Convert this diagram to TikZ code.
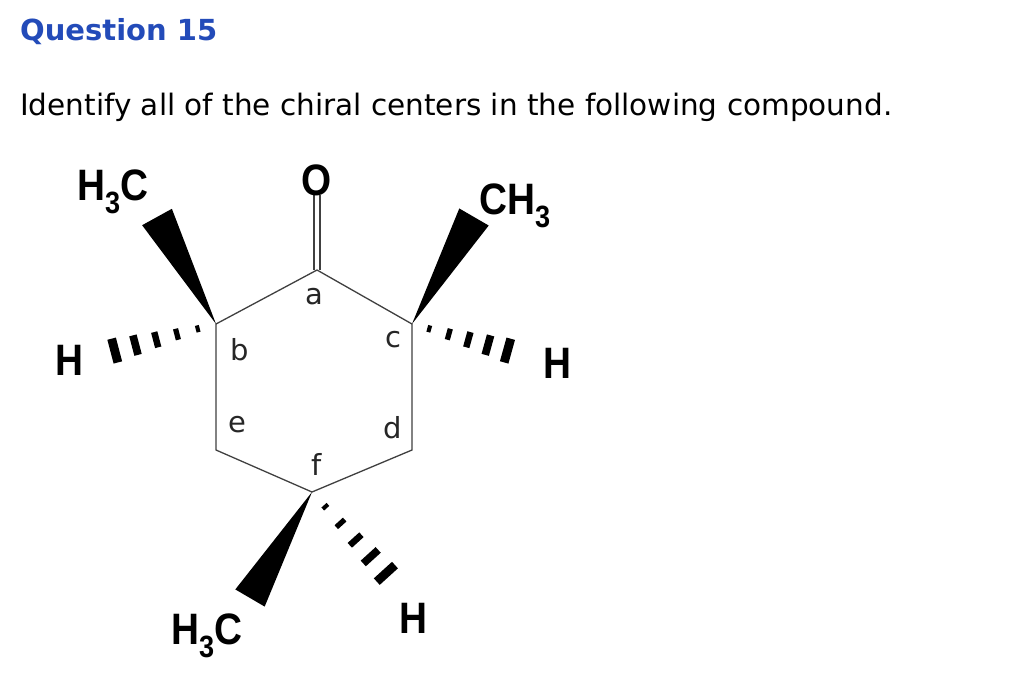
\documentclass[tikz,border=0pt]{standalone}
\usepackage{fontspec}
\setmainfont{DejaVu Sans}
\newfontfamily\chem{Liberation Sans}
\usetikzlibrary{calc}
\tikzset{
 bond/.style={line width=1.3pt,black!75},
 atom/.style={font=\chem\bfseries\fontsize{44}{44}\selectfont,inner sep=0pt,xscale=0.88},
 lab/.style={font=\fontsize{29}{29}\selectfont,text=black!85,inner sep=0pt}
}
\newcommand{\wedgebond}[2]{%
 \fill ($(#1)$) -- ($(#2)!17pt!90:(#1)$) -- ($(#2)!17pt!-90:(#1)$) -- cycle;}
\newcommand{\hashbond}[2]{%
 \foreach \t in {0.15,0.32,0.49,0.66,0.83,1.0}{%
  \pgfmathsetmacro{\hw}{1.5+\t*13}%
  \pgfmathsetmacro{\lw}{3+\t*7}%
  \draw[line width=\lw pt] ($(#1)!\t!(#2)$) coordinate (hp) ($(hp)!\hw pt!90:(#2)$) -- ($(hp)!\hw pt!-90:(#2)$);}}
\begin{document}
\begin{tikzpicture}[x=1pt,y=-1pt]
\useasboundingbox (0,0) rectangle (1024,683);
\fill[white] (0,0) rectangle (1024,683);
\node[anchor=west,font=\bfseries\fontsize{29}{29}\selectfont,text={rgb,255:red,35;green,75;blue,185},inner sep=0] (title) at (20,32) {Question 15};
\node[anchor=west,font=\fontsize{29.5}{29.5}\selectfont,inner sep=0] (q) at (20,107) {Identify all of the chiral centers in the following compound.};
\coordinate (a) at (317,270);
\coordinate (b) at (216,324);
\coordinate (c) at (412,324);
\coordinate (e) at (216,450);
\coordinate (d) at (412,450);
\coordinate (f) at (312,492);
\draw[bond] (a) -- (b) -- (e) -- (f) -- (d) -- (c) -- cycle;
\draw[bond] ($(a)+(-3,0)$) -- ++(0,-75) ($(a)+(3,0)$) -- ++(0,-75);
\node[atom] (O) at (317,180) {O};
\coordinate (w1) at (157,217);
\coordinate (w2) at (474,217);
\coordinate (w3) at (250,598);
\coordinate (h1) at (94,356);
\coordinate (h2) at (527,356);
\coordinate (h3) at (401,590);
\wedgebond{b}{w1}
\wedgebond{c}{w2}
\wedgebond{f}{w3}
\hashbond{b}{h1}
\hashbond{c}{h2}
\hashbond{f}{h3}
\node[atom] (m1) at (113,192) {H\textsubscript{3}C};
\node[atom] (m2) at (515,206) {CH\textsubscript{3}};
\node[atom] (m3) at (207,636) {H\textsubscript{3}C};
\node[atom] (H1) at (69,360) {H};
\node[atom] (H2) at (557,363) {H};
\node[atom] (H3) at (413,618) {H};
\node[lab] (la) at (314,297) {a};
\node[lab] (lb) at (240,350) {b};
\node[lab] (lc) at (393,340) {c};
\node[lab] (ld) at (393,428) {d};
\node[lab] (le) at (237,425) {e};
\node[lab] (lf) at (317,464) {f};
\end{tikzpicture}
\end{document}
